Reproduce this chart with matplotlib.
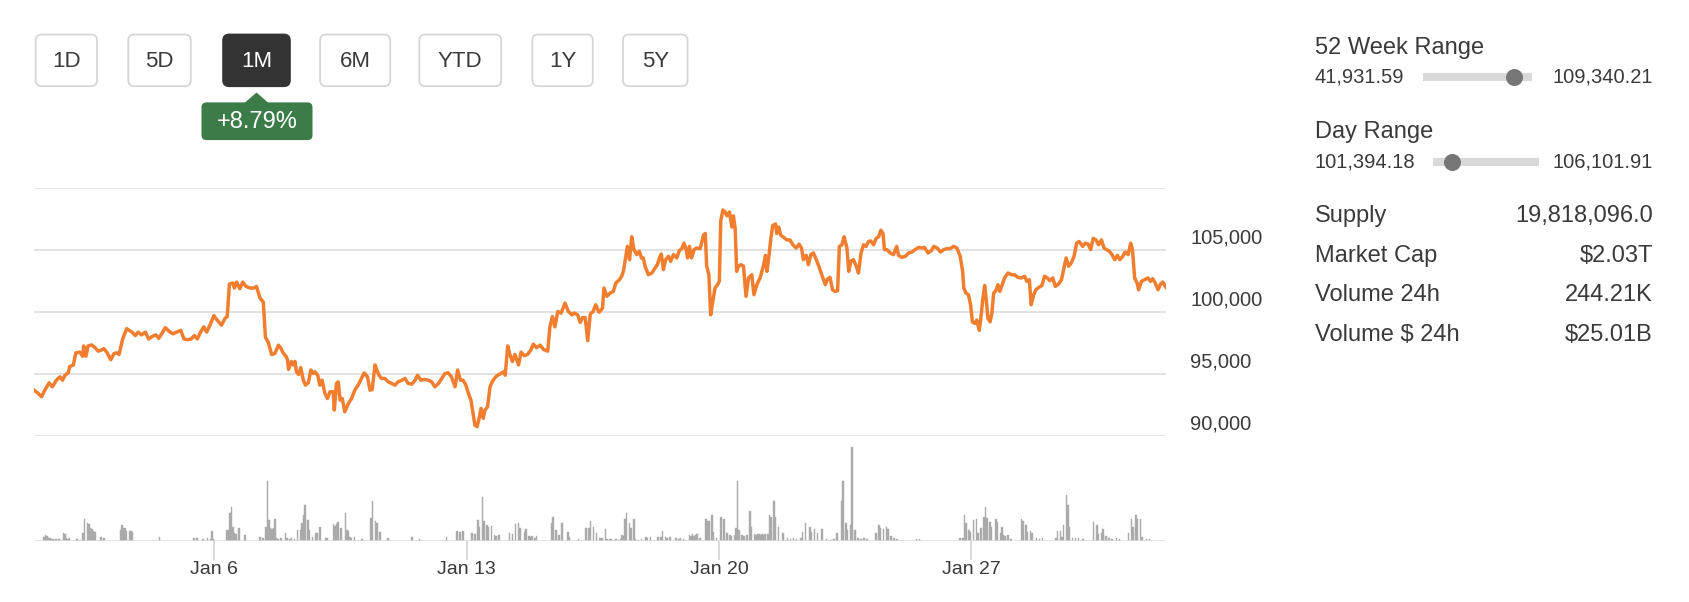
import numpy as np
import matplotlib
matplotlib.use("Agg")
import matplotlib.pyplot as plt
import matplotlib.dates as mdates
from matplotlib.patches import FancyBboxPatch, Polygon
from matplotlib.transforms import blended_transform_factory, offset_copy

plt.rcParams['font.family'] = ['Liberation Sans', 'DejaVu Sans']

start = np.datetime64('2025-01-01T00:00')

# price line: days since Jan 1 00:00, price in USD
price_days = [
    0.00, 0.12, 0.21, 0.30, 0.42, 0.51, 0.62, 0.72, 0.79, 0.86, 0.95, 0.99, 1.09, 1.16, 1.27, 1.35,
    1.38, 1.44, 1.50, 1.60, 1.69, 1.78, 1.87, 1.94, 2.03, 2.13, 2.22, 2.31, 2.36, 2.46, 2.57, 2.64,
    2.72, 2.81, 2.89, 2.98, 3.09, 3.18, 3.29, 3.38, 3.46, 3.54, 3.64, 3.75, 3.86, 3.95, 4.07, 4.16,
    4.25, 4.36, 4.45, 4.53, 4.62, 4.71, 4.79, 4.88, 4.99, 5.08, 5.20, 5.30, 5.36, 5.42, 5.51, 5.56,
    5.62, 5.71, 5.79, 5.88, 5.99, 6.10, 6.17, 6.27, 6.36, 6.42, 6.50, 6.59, 6.68, 6.78, 6.84, 6.91,
    6.99, 7.03, 7.06, 7.14, 7.19, 7.24, 7.28, 7.34, 7.40, 7.47, 7.53, 7.61, 7.68, 7.75,
    7.79, 7.87, 7.93, 7.99, 8.07, 8.14, 8.21, 8.30, 8.33, 8.39, 8.44, 8.49, 8.55, 8.62, 8.72, 8.81,
    8.90, 8.99, 9.07, 9.16, 9.25, 9.32, 9.38, 9.46, 9.51, 9.57, 9.64, 9.73, 9.83, 9.92, 10.01, 10.10,
    10.20, 10.29, 10.38, 10.48, 10.57, 10.64, 10.73, 10.84, 10.94, 11.03, 11.12, 11.22, 11.31, 11.40,
    11.49, 11.58, 11.68, 11.75, 11.83, 11.90, 11.97, 12.05, 12.12, 12.18, 12.23, 12.29, 12.34, 12.40,
    12.46, 12.51, 12.58, 12.65, 12.71, 12.79, 12.86, 12.95, 13.02, 13.07, 13.14, 13.20, 13.27, 13.34,
    13.44, 13.51, 13.60, 13.69, 13.79, 13.85, 13.94, 14.04, 14.13, 14.25, 14.31, 14.38, 14.45, 14.53,
    14.62, 14.73, 14.82, 14.92, 14.99, 15.08, 15.15, 15.22, 15.29, 15.36, 15.43, 15.51, 15.58, 15.67,
    15.70, 15.77, 15.81, 15.89, 15.98, 16.07, 16.14, 16.24, 16.30, 16.35, 16.40, 16.46, 16.52, 16.58,
    16.64, 16.72, 16.79, 16.85, 16.90, 16.95, 17.04, 17.14, 17.23, 17.29, 17.35, 17.40, 17.46, 17.52,
    17.60, 17.66, 17.74, 17.83, 17.90, 17.97, 18.03, 18.09, 18.13, 18.18, 18.24, 18.31, 18.38, 18.48,
    18.57, 18.62, 18.66, 18.72, 18.77, 18.83, 18.89, 18.96, 19.01, 19.05, 19.11, 19.17, 19.22, 19.29,
    19.36, 19.40, 19.45, 19.49, 19.54, 19.61, 19.68, 19.75, 19.82, 19.91, 19.97, 20.05, 20.14, 20.23,
    20.29, 20.33, 20.38, 20.44, 20.49, 20.57, 20.60, 20.66, 20.71, 20.81, 20.88, 20.97, 21.05, 21.14,
    21.22, 21.29, 21.34, 21.42, 21.48, 21.55, 21.62, 21.70, 21.77, 21.85, 21.95, 22.01, 22.08, 22.15,
    22.22, 22.29, 22.34, 22.41, 22.47, 22.55, 22.60, 22.66, 22.73, 22.81, 22.87, 22.94, 23.01, 23.08,
    23.15, 23.21, 23.29, 23.36, 23.43, 23.49, 23.55, 23.59,
    23.66, 23.75, 23.84, 23.93, 23.98, 24.07, 24.17, 24.26, 24.35, 24.44, 24.54, 24.63, 24.70, 24.80,
    24.89, 24.96, 25.05, 25.15, 25.23, 25.32, 25.41, 25.51, 25.60, 25.69, 25.76, 25.79, 25.85, 25.92,
    25.98, 26.03, 26.09, 26.15, 26.22, 26.28, 26.31, 26.37, 26.41, 26.46, 26.52, 26.57, 26.62, 26.68,
    26.74, 26.79, 26.85, 26.92, 27.02, 27.11, 27.20, 27.29, 27.39, 27.48, 27.54, 27.61, 27.66, 27.73,
    27.79, 27.87, 27.96, 28.03, 28.11, 28.18, 28.26, 28.33, 28.42, 28.50, 28.56, 28.63, 28.70, 28.77,
    28.85, 28.92, 28.99, 29.09, 29.16, 29.24, 29.31, 29.38, 29.46, 29.53, 29.61, 29.68, 29.75, 29.83,
    29.90, 29.98, 30.05, 30.12, 30.20, 30.27, 30.35, 30.42, 30.47, 30.53, 30.60, 30.64, 30.72, 30.81,
    30.90, 30.97, 31.03, 31.10, 31.18, 31.24, 31.31, 31.40,
]
price_usd = [
    93700, 93420, 93160, 93690, 94280, 93960, 94490, 94760, 94490, 94890, 95080, 95580, 95720, 96690, 96750, 96420,
    97250, 96420, 97250, 97330, 97110, 96830, 96920, 97030, 96690, 96140, 96640, 96690, 96560, 97810, 98640, 98500,
    98360, 98080, 98360, 98140, 98360, 97810, 98030, 98140, 97860, 98220, 98720, 98420, 98220, 98360, 98500, 97810,
    97750, 97810, 98080, 97810, 98360, 98780, 98360, 98920, 99690, 99330, 98920, 99470, 99610, 102230, 102310, 101910,
    102390, 101850, 102390, 102040, 101910, 101910, 102040, 101100, 100780, 97940, 97530, 96560, 96640, 97310, 97110, 96690,
    96420, 96140, 95360, 96000, 95720, 96000, 95170, 94950, 95500, 94490, 94090, 94280, 95310, 95030,
    95170, 94890, 94090, 94490, 93420, 93020, 93560, 93560, 92090, 94230, 94360, 92890, 93020, 91950, 92620, 93020,
    93690, 94090, 94550, 95080, 94760, 93690, 93740, 95720, 95310, 94890, 94630, 94630, 94360, 94230, 94090, 94360,
    94490, 94630, 94230, 94170, 94490, 94890, 94490, 94550, 94490, 94360, 93960, 94230, 94630, 95030,
    95080, 94760, 93960, 95310, 94490, 94490, 94170, 93420, 92890, 91820, 90880, 90750, 91340, 92220,
    91420, 92090, 92350, 93960, 94360, 94710, 94890, 95030, 95170, 94890, 97250, 96560, 96000, 96560,
    95720, 96750, 96470, 96560, 96970, 97390, 97110, 97310, 96970, 96830, 98780, 99610, 98780, 100030,
    99890, 100700, 100030, 99750, 99890, 99750, 99140, 99530, 99530, 97670, 99810, 100030, 100560, 99970,
    100030, 100300, 101910, 101240, 101510, 101640, 102310, 102580, 102850, 103250, 104190, 105260, 104190, 106040,
    105000, 104600, 104870, 104330, 104330, 103660, 102980, 103120, 103520, 103790, 104330, 104650, 103390, 104190,
    104460, 104060, 104600, 104330, 104920, 105080, 105520, 105000, 104330, 105260, 104330, 105000, 105130, 105080,
    106170, 106300, 103660, 102980, 99750, 100860, 101910, 102180, 102450, 107330, 108190, 108030, 107720, 108030,
    106810, 107720, 106680, 103250, 103660, 103790, 103660, 101240, 102720, 102980, 101370, 102180, 102720, 103660,
    104540, 103250, 104330, 105910, 106940, 107070, 106300, 106810, 106170, 105960, 105780, 105780, 105390, 105130,
    105440, 105130, 104190, 104540, 103790, 104600, 104730, 104190, 103660, 102980, 102180, 102630, 102770, 101770,
    101640, 101690, 105260, 105390, 106040, 105130, 103250, 104060, 104190, 103660, 103120, 104730, 105390, 105260,
    105650, 105700, 105390, 105910, 106040, 106560, 106300, 105000,
    105000, 104730, 104600, 105260, 104540, 104380, 104460, 104730, 104810, 105000, 105180, 105130, 105180, 104730,
    104920, 105260, 105130, 104810, 105000, 105080, 105080, 105260, 105130, 104460, 103250, 101910, 101510, 101370,
    100560, 99190, 99060, 99330, 98500, 99890, 100830, 102120, 101100, 99470, 99190, 99890, 101510, 101690,
    102180, 101640, 102120, 102720, 103120, 102980, 102980, 102770, 102720, 102850, 102450, 102580, 100560, 101370,
    101770, 101960, 102120, 102850, 102720, 102500, 102720, 102040, 102230, 102580, 103390, 104330, 103660, 103920,
    104460, 105520, 105650, 105260, 105520, 105440, 105000, 105910, 105780, 105390, 105780, 105130, 105000, 104870,
    104600, 104190, 104540, 104190, 104460, 104810, 104600, 105520, 105000, 102720, 102310, 101770, 102450, 102580,
    102720, 102450, 102660, 102310, 101770, 102180, 102390, 101960,
]

# hourly volume bars: hour since Jan 1 00:00, relative size
vol_hour = [
    6, 7, 8, 9, 10, 11, 12, 13, 14, 15, 16, 17, 19, 20, 21, 22, 23, 28, 30, 32, 33, 35, 36, 37, 38, 39, 40,
    44, 46, 57, 58, 59, 60, 61, 63, 64, 65, 83, 106, 108, 112, 115, 117, 118, 119, 128, 129, 130, 131, 132,
    133, 134, 136, 140, 150, 152, 154, 155, 156, 157, 158, 159, 160, 161, 162, 164, 167, 168, 170, 171, 173,
    175, 177, 178, 179, 180, 182, 183, 185,
    187, 188, 190, 194, 195, 199, 200, 201, 202, 204, 207, 208, 209, 210, 211, 213, 218, 224, 225, 227, 228,
    230, 235, 251, 256, 274, 281, 283, 285, 291, 293, 295, 296, 298, 299, 301, 302, 304, 306, 307, 309, 316,
    318, 320, 322, 323, 326, 327, 329, 330, 331, 333, 334, 344, 345, 347, 349, 351, 355, 356, 362, 367, 369,
    370, 372, 374, 376,
    377, 378, 380, 381, 383, 384, 387, 389, 390, 391, 392, 393, 394, 396, 397, 399, 400, 402, 404, 407, 408,
    410, 415, 417, 418, 420, 421, 423, 427, 429, 430, 432, 436, 437, 438, 439, 440, 441, 443, 447, 448, 449,
    451, 452, 454, 457, 459, 461, 463, 464, 466, 467, 468, 469, 471, 472, 474, 476, 477, 479, 480, 481, 482,
    483, 484, 485, 486, 488, 489, 490, 492, 493, 495, 498, 501, 503, 505, 507, 510, 511, 513, 516, 517, 519,
    521, 524, 527, 530, 532, 534, 537, 538, 540, 541, 543, 544, 546, 548, 550, 552, 554, 560, 562, 563, 565,
    567, 568, 570, 572, 574, 587, 589, 616, 618, 619, 620, 622, 623, 625, 627, 628, 630, 632, 633, 634, 636,
    637, 640, 641, 643, 644, 645, 646, 648, 650, 657, 658, 660, 661, 663, 664, 667, 669, 671, 680, 681, 683,
    684, 685, 687, 688, 689, 691, 693, 695, 698, 705, 707, 708, 710, 711, 713, 715, 717, 720, 722, 728, 730,
    731, 733, 734, 736, 737, 740, 742,
]
vol_size = [
    12, 18, 15, 10, 8, 5, 5, 4, 5, 4, 5, 4, 25, 22, 8, 6, 8, 5, 4, 23, 65, 53, 50, 38, 35, 30, 28,
    13, 10, 33, 48, 40, 38, 30, 30, 30, 28, 13, 10, 8, 5, 8, 6, 30, 5, 33, 33, 83, 101, 43,
    23, 20, 40, 18, 13, 10, 43, 180, 63, 38, 35, 38, 66, 8, 6, 8, 25, 8, 6, 8, 5,
    33, 33, 53, 78, 108, 63, 33, 13,
    23, 23, 43, 10, 10, 50, 45, 50, 58, 38, 85, 33, 30, 11, 10, 11, 5, 68, 120, 60, 53,
    28, 8, 13, 6, 13, 31, 28, 31, 23, 20, 63, 43, 132, 60, 48, 43, 45, 18, 15, 18, 23,
    20, 51, 55, 38, 28, 35, 15, 12, 15, 10, 15, 53, 71, 33, 18, 55, 28, 13, 6, 38, 38,
    60, 43, 23, 10,
    8, 8, 35, 6, 5, 6, 5, 4, 5, 18, 15, 65, 85, 53, 38, 65, 5, 4, 5, 11, 9,
    11, 13, 11, 31, 11, 9, 11, 8, 6, 8, 5, 18, 15, 22, 14, 18, 20, 10, 65, 60, 60,
    78, 28, 10, 71, 65, 23, 18, 15, 18, 38, 180, 33, 18, 16, 18, 90, 43, 20, 18, 20, 22,
    18, 20, 18, 20, 22, 78, 73, 120, 73, 43, 25, 8, 6, 8, 5, 8, 28, 55, 43, 28, 35,
    23, 35, 5, 4, 5, 23, 120, 180, 53, 33, 48, 281, 33, 8, 6, 8, 6, 23, 48, 38, 35,
    41, 35, 15, 8, 6, 5, 5, 8, 8, 78, 55, 33, 28, 63, 65, 25, 38, 71, 101, 68, 58,
    43, 65, 58, 23, 43, 18, 15, 18, 5, 65, 60, 48, 28, 31, 23, 8, 6, 8, 8, 30, 30,
    13, 48, 138, 108, 43, 10, 8, 10, 6, 58, 48, 21, 23, 35, 15, 8, 6, 8, 5, 23, 65,
    43, 78, 65, 65, 13, 5, 5,
]

y_ticks = [90000, 95000, 100000, 105000, 110000]
x_ticks = ['2025-01-06', '2025-01-13', '2025-01-20', '2025-01-27']

periods = ['1D', '5D', '1M', '6M', 'YTD', '1Y', '5Y']
active_period = '1M'
change_label = '+8.79%'

week52_low, week52_high = 41931.59, 109340.21
day_low, day_high = 101394.18, 106101.91
stat_names = ['Supply', 'Market Cap', 'Volume 24h', 'Volume $ 24h']
stat_values = ['19,818,096.0', '$2.03T', '244.21K', '$25.01B']

ORANGE = '#f17e2e'
GRID = '#dadada'
TEXT = '#3a3a3a'

W, H = 1690, 602
fig = plt.figure(figsize=(W / 100, H / 100), dpi=100, facecolor='white')

# overlay in pixel units for the buttons and the side panel
ui = fig.add_axes([0, 0, 1, 1])
ui.set_xlim(0, W)
ui.set_ylim(H, 0)
ui.axis('off')

price_time = start + (np.array(price_days) * 1440).round().astype(int).astype('timedelta64[m]')
vol_time = start + np.array(vol_hour).astype('timedelta64[h]') + np.timedelta64(30, 'm')
tick_time = np.array(x_ticks, dtype='datetime64[m]')

left, right = 34, 1166
ax = fig.add_axes([left / W, 1 - 436 / H, (right - left) / W, (436 - 187.5) / H])
ax.set_facecolor('none')
for v in y_ticks:
    ax.axhline(v, color=GRID, lw=1.1, zorder=0)
ax.plot(price_time, price_usd, color=ORANGE, lw=2.5, solid_joinstyle='round', zorder=2)
ax.set_ylim(y_ticks[0], y_ticks[-1])
ax.set_xlim(price_time[0], price_time[-1])
ax.set_xticks([])
ax.set_yticks([])
for s in ax.spines.values():
    s.set_visible(False)

lab_tr = offset_copy(blended_transform_factory(fig.transFigure, ax.transData), fig=fig, y=12, units='dots')
for v in y_ticks[:-1]:
    ax.text(1190 / W, v, f'{v:,}', transform=lab_tr, ha='left', va='center',
            fontsize=14.5, color=TEXT, clip_on=False)

axv = fig.add_axes([left / W, 1 - 541 / H, (right - left) / W, (541 - 436) / H])
axv.set_facecolor('none')
axv.bar(vol_time, vol_size, width=np.timedelta64(60, 'm'), color='#aaaaaa',
        edgecolor='#aaaaaa', lw=0.3, zorder=2)
axv.axhline(0, color=GRID, lw=1.8, zorder=3)
axv.set_ylim(0, 315)
axv.set_xlim(price_time[0], price_time[-1])
axv.set_yticks([])
axv.set_xticks(tick_time)
axv.xaxis.set_major_formatter(plt.FuncFormatter(
    lambda x, pos: '{:%b} {}'.format(mdates.num2date(x), mdates.num2date(x).day)))
axv.tick_params(axis='x', length=13.5, width=1.1, color='#cfcfcf', labelsize=14,
                labelcolor=TEXT, pad=1)
for s in axv.spines.values():
    s.set_visible(False)

# period buttons
btn_x = [(35.6, 97.0), (128.3, 190.8), (223.1, 289.9), (320.1, 390.2),
         (419.3, 501.2), (532.4, 592.8), (623.0, 687.6)]
btn_top, btn_bot = 34.5, 86.2
for name, (x0, x1) in zip(periods, btn_x):
    on = name == active_period
    ui.add_patch(FancyBboxPatch((x0, btn_top), x1 - x0, btn_bot - btn_top,
                                boxstyle='round,pad=0,rounding_size=6',
                                fc='#333333' if on else 'white',
                                ec='#333333' if on else '#d6d6d6', lw=1.3))
    ui.text((x0 + x1) / 2, (btn_top + btn_bot) / 2 + 1, name, ha='center', va='center',
            fontsize=16, color='white' if on else TEXT)

# change badge under the active button
GREEN = '#3b7c48'
ui.add_patch(Polygon([(244.5, 103), (256.5, 92.5), (268.5, 103)], closed=True, fc=GREEN, ec='none'))
ui.add_patch(FancyBboxPatch((201.5, 102.4), 111, 37.7, boxstyle='round,pad=0,rounding_size=5',
                            fc=GREEN, ec='none'))
ui.text(257, 122, change_label, ha='center', va='center', fontsize=17, color='white')

# side panel
px0, px1 = 1315, 1652.7
last = price_usd[-1]


def range_row(y_title, y_row, title, lo, hi, t0, t1):
    ui.text(px0, y_title, title, ha='left', va='center', fontsize=17, color=TEXT)
    ui.text(px0, y_row, f'{lo:,.2f}', ha='left', va='center', fontsize=14.5, color=TEXT)
    ui.text(px1, y_row, f'{hi:,.2f}', ha='right', va='center', fontsize=14.5, color=TEXT)
    ui.plot([t0, t1], [y_row, y_row], color='#d9d9d9', lw=5.8, solid_capstyle='butt')
    frac = min(max((last - lo) / (hi - lo), 0), 1)
    ui.scatter([t0 + 8 + frac * (t1 - t0 - 16)], [y_row], s=150, color='#777777', zorder=3, lw=0)


range_row(48.3, 77.3, '52 Week Range', week52_low, week52_high, 1423, 1532)
range_row(131.7, 161.7, 'Day Range', day_low, day_high, 1433, 1539)

for i, (n, v) in enumerate(zip(stat_names, stat_values)):
    y = 216 + i * 39.7
    ui.text(px0, y, n, ha='left', va='center', fontsize=17, color=TEXT)
    ui.text(px1, y, v, ha='right', va='center', fontsize=17, color=TEXT)

fig.savefig('out.png', dpi=100, facecolor='white')
